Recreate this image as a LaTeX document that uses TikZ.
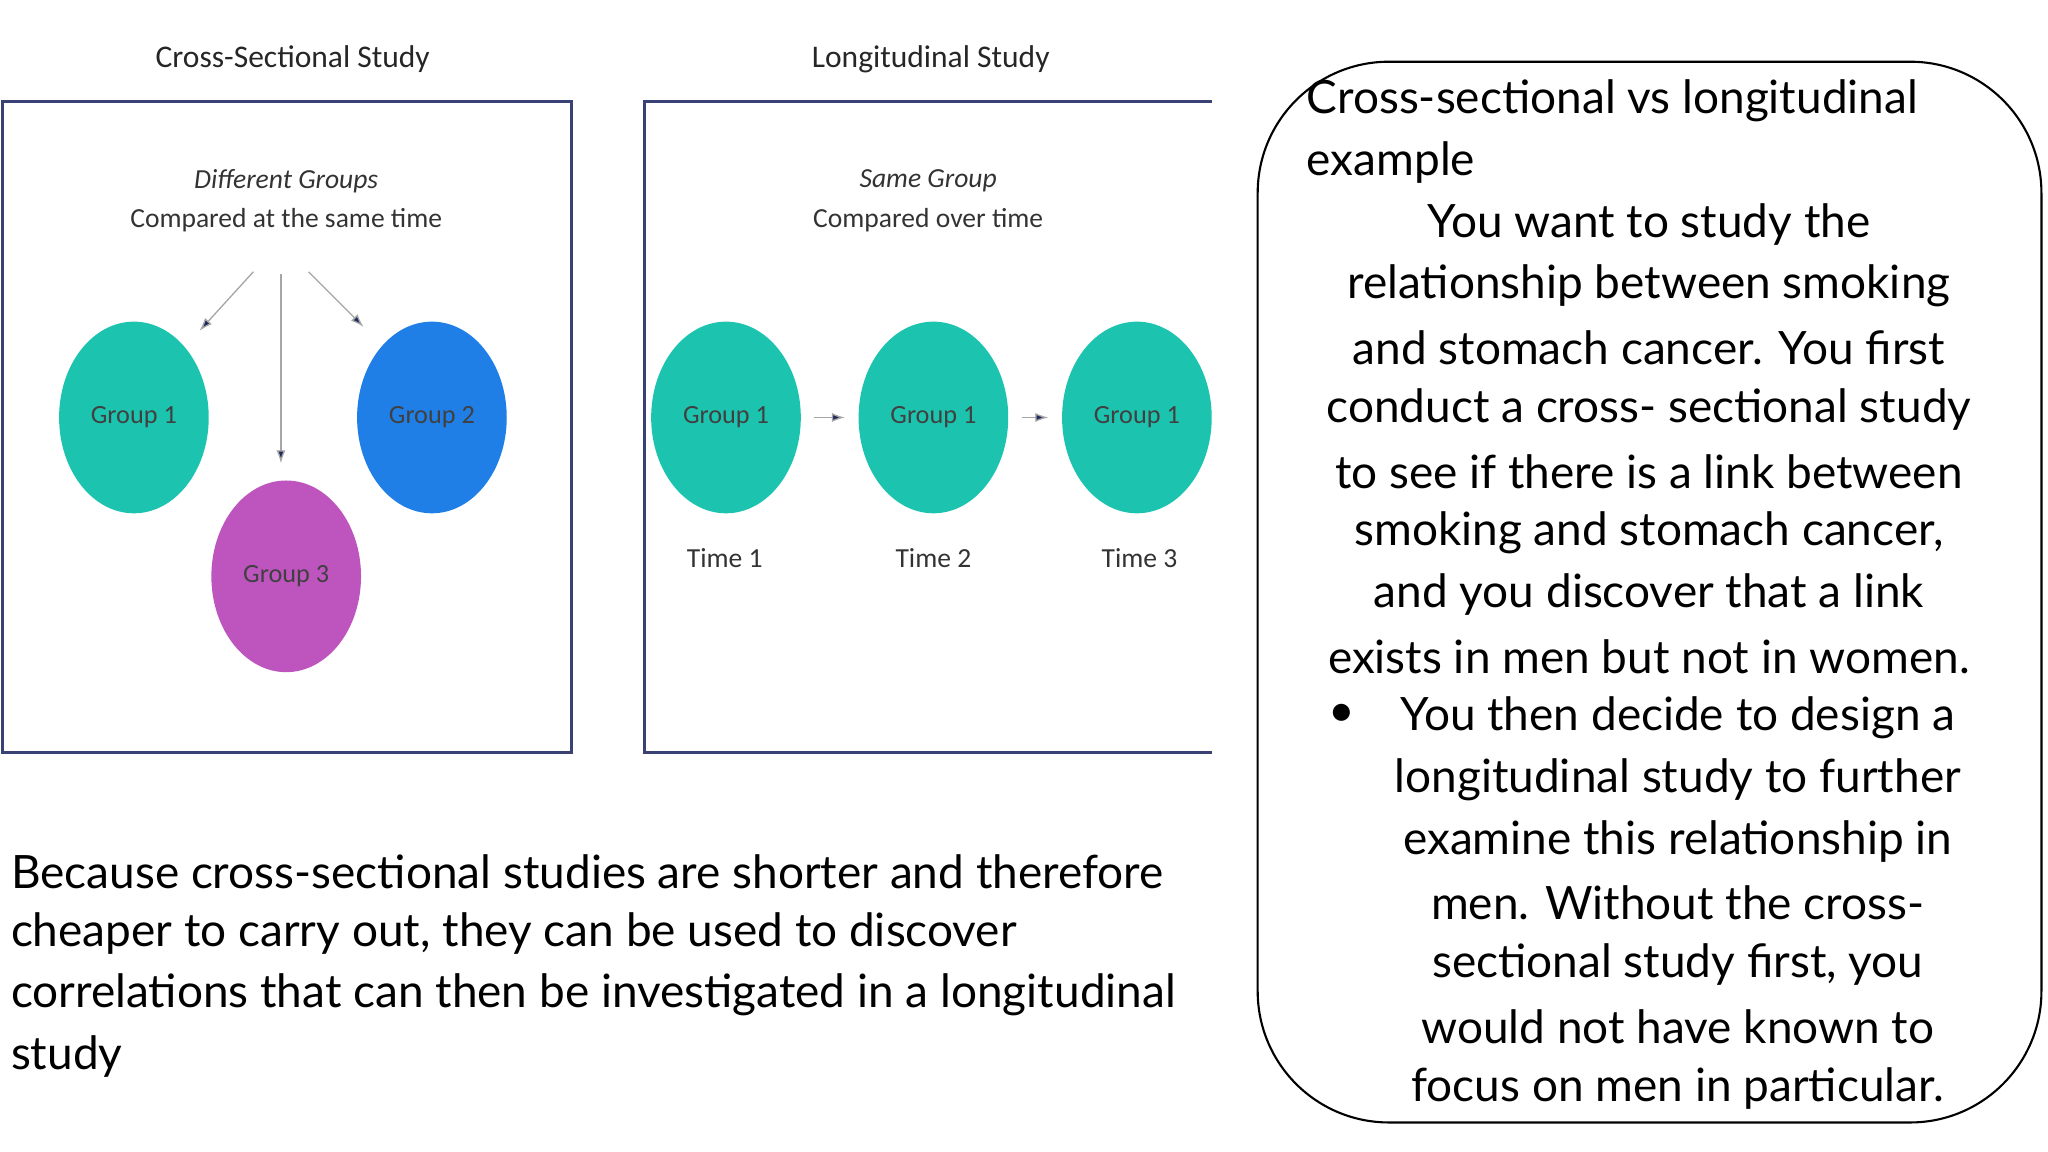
\documentclass[tikz,border=0pt]{standalone}
\usepackage{fontspec}
\usetikzlibrary{shapes.geometric,arrows.meta}
\setmainfont{Lato}
\newfontfamily\carl{Carlito}
\definecolor{boxnavy}{HTML}{3A4275}
\definecolor{teal}{HTML}{1CC4B0}
\definecolor{blu}{HTML}{1F7FE6}
\definecolor{pur}{HTML}{BE55BE}
\definecolor{arr}{HTML}{1F2A5E}
\begin{document}
\begin{tikzpicture}[x=0.5pt,y=-0.5pt,
  frame/.style={draw=boxnavy,line width=1.2pt},
  grp/.style={ellipse,minimum width=57pt,minimum height=73pt,inner sep=0pt,font=\carl\fontsize{10}{12}\selectfont,text=black!75},
  lab/.style={font=\carl\fontsize{10.5}{12}\selectfont,text=black!80},
  ttl/.style={font=\carl\fontsize{12}{14}\selectfont,text=black!85},
  thin/.style={draw=gray!70,line width=0.5pt,-{Latex[length=5pt,width=3.5pt,fill=arr]}},
  body/.style={font=\fontsize{17.5}{23.5}\selectfont,inner sep=0pt}]
\useasboundingbox (0,0) rectangle (1560,877.5);
% panels
\draw[frame] (2,77) rectangle (435,573);
\draw[frame] (923,77) -- (491,77) -- (491,573) -- (923,573);
\node[ttl] (t1) at (223,45) {Cross-Sectional Study};
\node[ttl] (t2) at (709,45) {Longitudinal Study};
\node[lab] (d1) at (218,138) {\itshape Different Groups};
\node[lab] (d2) at (218,168) {Compared at the same time};
\node[lab] (s1) at (707,138) {\itshape Same Group};
\node[lab] (s2) at (707,168) {Compared over time};
\node[grp,fill=teal] (g1) at (102,318) {Group 1};
\node[grp,fill=blu] (g2) at (329,318) {Group 2};
\node[grp,fill=pur] (g3) at (218,439) {Group 3};
\coordinate (a1) at (193,207); \coordinate (a2) at (214,209); \coordinate (a3) at (235,207);
\coordinate (b1) at (152,252); \coordinate (b2) at (214,353); \coordinate (b3) at (277,249);
\draw[thin] (a1) -- (b1);
\draw[thin] (a2) -- (b2);
\draw[thin] (a3) -- (b3);
\node[grp,fill=teal] (l1) at (553,318) {Group 1};
\node[grp,fill=teal] (l2) at (711,318) {Group 1};
\node[grp,fill=teal] (l3) at (866,318) {Group 1};
\draw[thin] ([xshift=5]l1.east) -- ([xshift=-5]l2.west);
\draw[thin] ([xshift=5]l2.east) -- ([xshift=-5]l3.west);
\node[lab] (m1) at (552,425) {Time 1};
\node[lab] (m2) at (711,425) {Time 2};
\node[lab] (m3) at (868,425) {Time 3};
% bottom text
\node[body,anchor=west] (p1) at (8,664) {Because cross-sectional studies are shorter and therefore};
\node[body,anchor=west] (p2) at (8,711) {cheaper to carry out, they can be used to discover};
\node[body,anchor=west] (p3) at (8,758) {correlations that can then be investigated in a longitudinal};
\node[body,anchor=west] (p4) at (8,805) {study};
% right box
\draw[line width=0.8pt,rounded corners=50pt] (958,47) rectangle (1555,855);
\node[body,anchor=west] (r1) at (995,77) {Cross-sectional vs longitudinal};
\node[body,anchor=west] (r2) at (995,124) {example};
\node[body] at (1256,171) {You want to study the};
\node[body] at (1256,218) {relationship between smoking};
\node[body] at (1256,265) {and stomach cancer. You first};
\node[body] at (1256,312) {conduct a cross- sectional study};
\node[body] at (1256,359) {to see if there is a link between};
\node[body] at (1256,406) {smoking and stomach cancer,};
\node[body] at (1256,453) {and you discover that a link};
\node[body] at (1256,500) {exists in men but not in women.};
\node[body] at (1022,545) {\textbullet};
\node[body] at (1278,547) {You then decide to design a};
\node[body] at (1278,594) {longitudinal study to further};
\node[body] at (1278,641) {examine this relationship in};
\node[body] at (1278,688) {men. Without the cross-};
\node[body] at (1278,735) {sectional study first, you};
\node[body] at (1278,782) {would not have known to};
\node[body] at (1278,829) {focus on men in particular.};
\end{tikzpicture}
\end{document}
